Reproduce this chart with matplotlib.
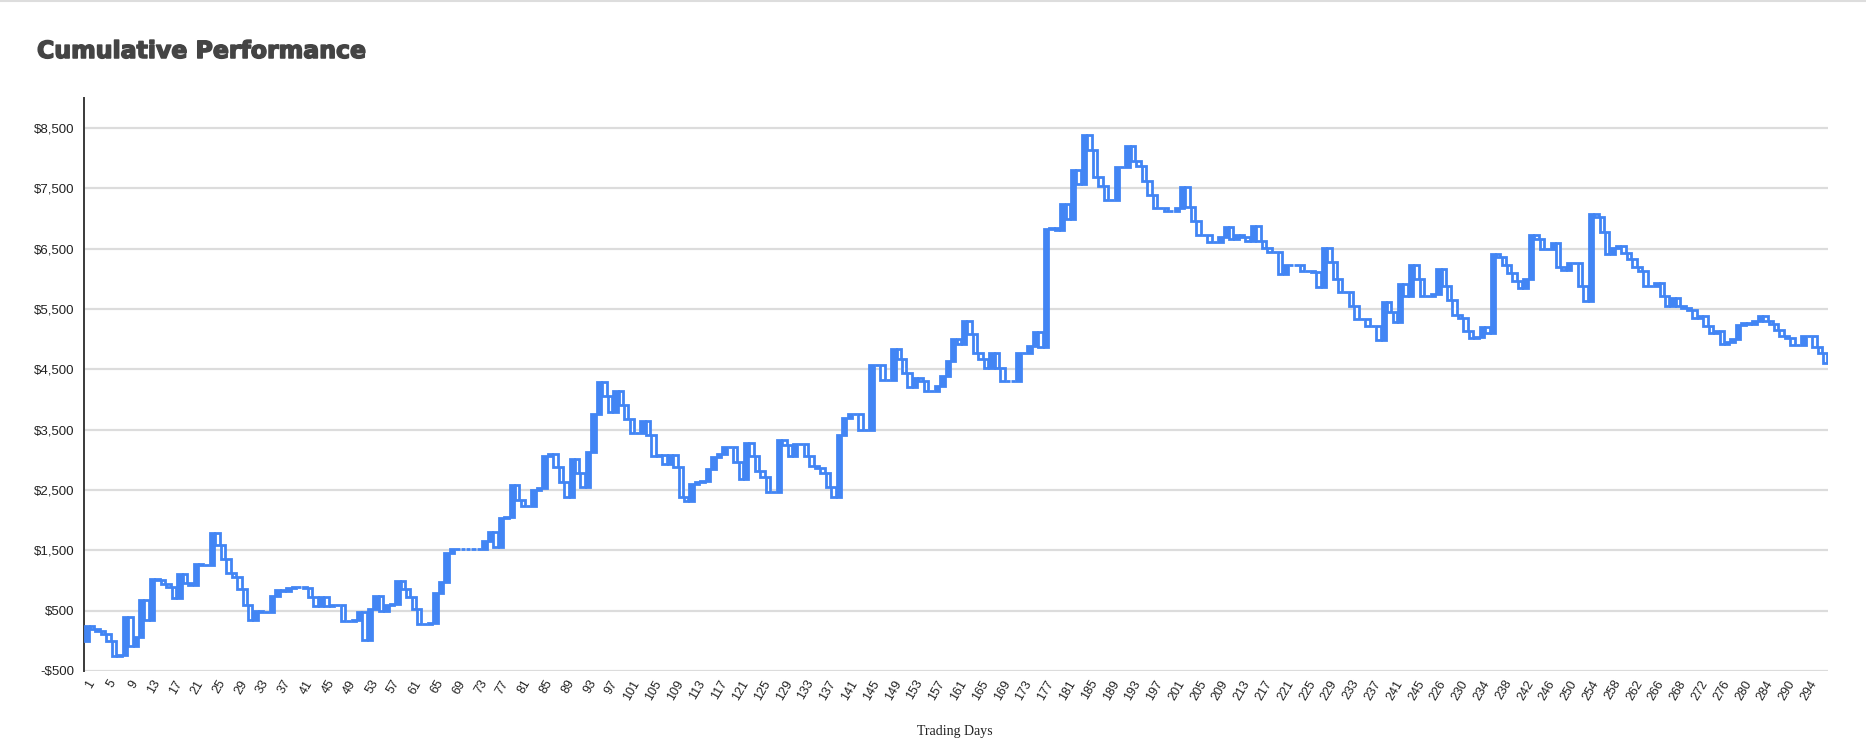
"""Cumulative performance candle-step chart."""

import matplotlib
matplotlib.use("Agg")
import matplotlib.pyplot as plt
import matplotlib.patheffects as pe
from matplotlib.lines import Line2D
import numpy as np

# cumulative P&L after each trading day in four stretches
pnl_days_1_81 = [
    250, 190, 160, 120, 0, -258, -240, 400, -87, 62,
    669, 338, 1027, 1010, 950, 900, 713, 1110, 955, 920,
    1275, 1265, 1250, 1783, 1595, 1358, 1120, 1065, 862, 586,
    349, 500, 480, 475, 750, 850, 830, 870, 890, 890,
    870, 725, 580, 720, 580, 600, 600, 335, 335, 345,
    475, 7, 530, 740, 500, 590, 610, 1000, 860, 735,
    530, 282, 280, 290, 790, 970, 1450, 1520, 1520, 1520,
    1520, 1525, 1530, 1650, 1800, 1550, 2040, 2060, 2590, 2335,
    2240,
]
pnl_days_82_160 = [
    2230, 2500, 2530, 3072, 3100, 2878, 2628, 2390, 3017, 2780,
    2545, 3128, 3755, 4294, 4056, 3794, 4144, 3905, 3683, 3444,
    3450, 3644, 3405, 3072, 3080, 2930, 3080, 2880, 2378, 2320,
    2600, 2630, 2650, 2850, 3055, 3100, 3210, 3210, 2960, 2683,
    3278, 3072, 2822, 2710, 2460, 2460, 3322, 3240, 3072, 3266,
    3266, 3072, 2905, 2870, 2780, 2544, 2390, 3405, 3700, 3755,
    3755, 3490, 3490, 4572, 4572, 4322, 4322, 4833, 4667, 4444,
    4211, 4350, 4300, 4144, 4144, 4222, 4389, 4644, 5000,
]
pnl_days_161_239 = [
    4920, 5300, 5085, 4780, 4670, 4530, 4780, 4530, 4310, 4310,
    4310, 4780, 4780, 4890, 5113, 4865, 6826, 6842, 6810, 7240,
    6990, 7800, 7570, 8390, 8135, 7682, 7544, 7307, 7307, 7850,
    7850, 8207, 7958, 7876, 7627, 7395, 7174, 7174, 7130, 7130,
    7170, 7527, 7185, 6964, 6732, 6732, 6620, 6620, 6690, 6855,
    6660, 6730, 6690, 6632, 6881, 6632, 6520, 6440, 6440, 6080,
    6235, 6235, 6235, 6135, 6135, 6120, 5860, 6510, 6273, 5997,
    5776, 5776, 5555, 5334, 5334, 5224, 5224, 4986, 5610,
]
pnl_days_240_320 = [
    5460, 5280, 5919, 5720, 6233, 5996, 5720, 5710, 5750, 6160,
    5875, 5643, 5406, 5350, 5130, 5020, 5037, 5200, 5100, 6415,
    6360, 6233, 6095, 5974, 5847, 5996, 6729, 6657, 6492, 6492,
    6602, 6194, 6150, 6270, 6270, 5886, 5627, 7076, 7020, 6784,
    6415, 6510, 6550, 6437, 6326, 6205, 6140, 5886, 5886, 5940,
    5720, 5555, 5690, 5555, 5520, 5490, 5350, 5380, 5213, 5100,
    5130, 4927, 4950, 5000, 5240, 5270, 5260, 5300, 5390, 5300,
    5260, 5160, 5050, 5020, 4910, 4910, 5060, 5060, 4880, 4770,
    4600,
]

# category labels shown on the axis (every 4th day), as printed on the chart
tick_labels = [str(d) for d in range(1, 246, 4)] + [
    "226", "230", "234", "238", "242", "246", "250", "254", "258",
    "262", "266", "268", "272", "276", "280", "284", "290", "294",
]
y_ticks = list(range(-500, 9000, 1000))

BLUE = "#4285F4"


def money(v: int) -> str:
    return f"-${abs(v):,}" if v < 0 else f"${v:,}"


def main() -> None:
    close = np.array(pnl_days_1_81 + pnl_days_82_160 + pnl_days_161_239 + pnl_days_240_320, dtype=float)
    opn = np.concatenate([[0.0], close[:-1]])
    x = np.arange(len(close))
    rising = close >= opn

    fig = plt.figure(figsize=(18.66, 7.51), dpi=100)
    ax = fig.add_axes([84 / 1866, 1 - 671 / 751, (1828 - 84) / 1866, (671 - 98) / 751])

    ax.bar(x[rising], (close - opn)[rising], bottom=opn[rising], width=0.8,
           color=BLUE, edgecolor=BLUE, linewidth=2.0, zorder=3)
    ax.bar(x[~rising], (close - opn)[~rising], bottom=opn[~rising], width=0.8,
           color="white", edgecolor=BLUE, linewidth=2.0, zorder=3)

    ax.set_xlim(-0.5, len(close) - 0.5)
    ax.set_ylim(-500, 9000)
    ax.set_yticks(y_ticks, [money(v) for v in y_ticks])
    ax.set_xticks(x[::4][: len(tick_labels)], tick_labels, rotation=60, ha="right", va="top",
                  rotation_mode="anchor")
    ax.yaxis.grid(True, color="#dcdcdc", linewidth=1.6)
    ax.set_axisbelow(True)
    for side in ("top", "right", "bottom"):
        ax.spines[side].set_visible(False)
    ax.spines["left"].set_color("#3a3a3a")
    ax.spines["left"].set_linewidth(1.4)
    ax.tick_params(axis="y", length=0, pad=7, labelsize=9.5, labelcolor="#222222")
    ax.tick_params(axis="x", length=0, pad=5, labelsize=9, labelcolor="#222222")
    for lab in ax.get_xticklabels() + ax.get_yticklabels():
        lab.set_family(["Liberation Sans", "DejaVu Sans"])

    fig.text(37 / 1866, 1 - 51 / 751, "Cumulative Performance", ha="left", va="center",
             fontsize=17, fontweight="heavy", color="#444444", family=["DejaVu Sans"],
             path_effects=[pe.withStroke(linewidth=1.1, foreground="#444444")])
    fig.text(955 / 1866, 1 - 731 / 751, "Trading Days", ha="center", va="center",
             fontsize=10, color="#222222", family=["Liberation Serif", "DejaVu Serif"])
    fig.add_artist(Line2D([0, 1], [0.9985, 0.9985], color="#dddddd", linewidth=1.5))

    fig.savefig("out.png", dpi=100)
    plt.close(fig)


if __name__ == "__main__":
    main()
